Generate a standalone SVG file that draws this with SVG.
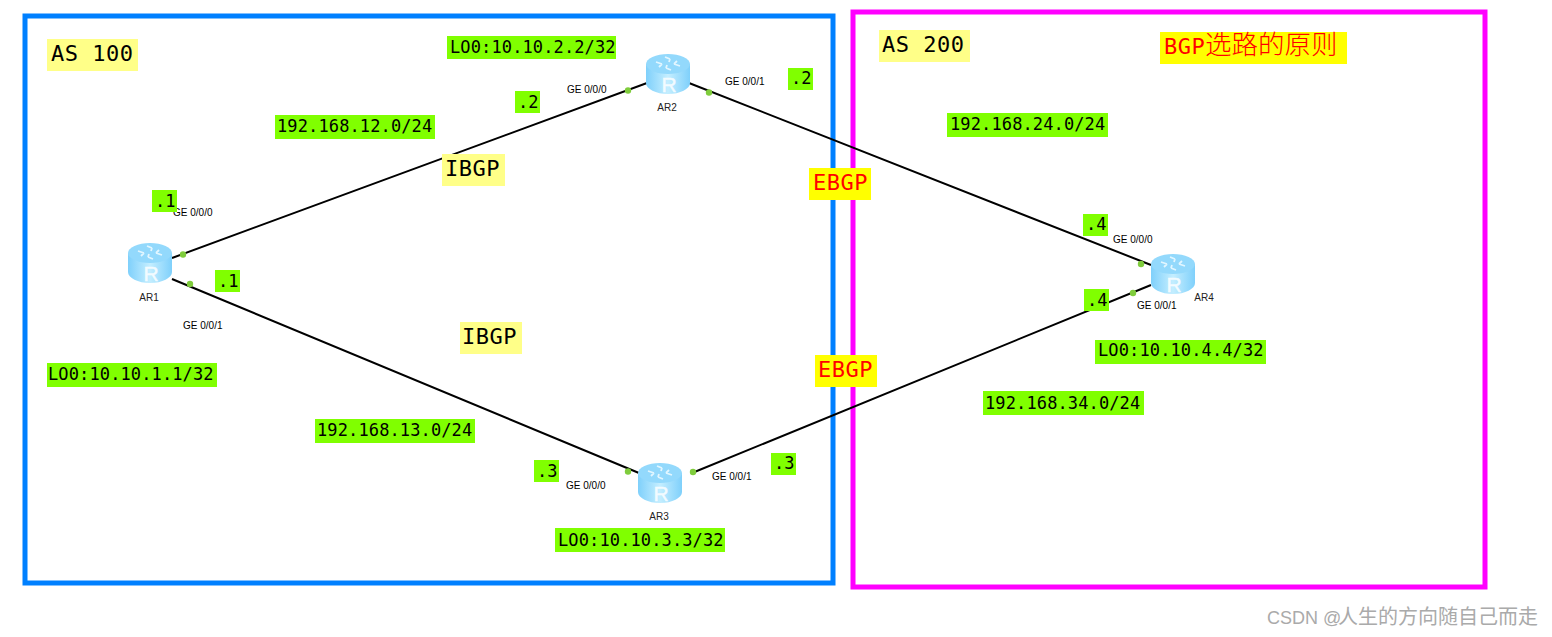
<svg xmlns="http://www.w3.org/2000/svg" width="1552" height="637" viewBox="0 0 1552 637">
<style>
.bg{fill:#80ff00}
.yl{fill:#ffff88}
.ye{fill:#ffff00}
.m{font-family:"DejaVu Sans Mono","Liberation Mono",monospace;fill:#000}
.s17{font-size:17px;letter-spacing:.12px}
.s22{font-size:22px;letter-spacing:.5px}
.r{fill:#ff0000}
.t{font-family:"Liberation Sans",Arial,sans-serif;font-size:10px;fill:#000}
.n{font-family:"Liberation Sans",Arial,sans-serif;font-size:10px;fill:#222}
.c{stroke:#000;stroke-width:2;fill:none}
.d{fill:#7fcc3c}
</style>
<defs>
<linearGradient id="side" x1="0" x2="1" y1="0" y2="0"><stop offset="0" stop-color="#7fd0fb"/><stop offset=".5" stop-color="#c4eeff"/><stop offset="1" stop-color="#7fd0fb"/></linearGradient>
<g id="router">
<path d="M-22-10V9C-22 15-12 20 0 20S22 15 22 9V-10Z" fill="url(#side)"/>
<ellipse cx="0" cy="-10" rx="22" ry="10" fill="#93d9fc"/>
<path d="M-12-12l6 2M-6-10l-3 3M12-8l-6-2M6-10l3-3M-3-17l5 2M2-15l-1 3M3-4l-5-2M-2-6l1-3" stroke="#e2f6ff" stroke-width="1.800" fill="none"/>
<text x="1" y="18" text-anchor="middle" font-family="Liberation Sans,sans-serif" font-size="21" fill="#f2fbff" stroke="#f2fbff" stroke-width=".4">R</text>
</g>
</defs>
<rect width="1552" height="637" fill="#fff"/>
<g id="as100-box"><rect x="25" y="16" width="808" height="567" fill="none" stroke="#0080ff" stroke-width="5"/></g>
<g id="as200-box"><rect x="853" y="12" width="632" height="575" fill="none" stroke="#ff00ff" stroke-width="5"/></g>
<g id="connectors">
<path class="c" d="M172 258L647 83M172 279L639 473M689 83L1151 265M692 473L1151 285"/>
<circle class="d" cx="183" cy="254.500" r="3.200"/><circle class="d" cx="190" cy="284" r="3.200"/>
<circle class="d" cx="628" cy="90.500" r="3.200"/><circle class="d" cx="709" cy="92.500" r="3.200"/>
<circle class="d" cx="628" cy="471.500" r="3.200"/><circle class="d" cx="693" cy="472" r="3.200"/>
<circle class="d" cx="1141" cy="264" r="3.200"/><circle class="d" cx="1133" cy="293" r="3.200"/>
</g>
<g id="AR1"><use href="#router" x="150" y="263"/><text class="n" x="149" y="301" text-anchor="middle">AR1</text></g>
<g id="AR2"><use href="#router" x="668" y="74"/><text class="n" x="667" y="111" text-anchor="middle">AR2</text></g>
<g id="AR3"><use href="#router" x="660" y="483"/><text class="n" x="659" y="520" text-anchor="middle">AR3</text></g>
<g id="AR4"><use href="#router" x="1173" y="274"/><text class="n" x="1204" y="301" text-anchor="middle">AR4</text></g>
<g id="ports">
<text class="t" x="173" y="216">GE 0/0/0</text><text class="t" x="183" y="329">GE 0/0/1</text>
<text class="t" x="567" y="93">GE 0/0/0</text><text class="t" x="725" y="85">GE 0/0/1</text>
<text class="t" x="566" y="489">GE 0/0/0</text><text class="t" x="712" y="480">GE 0/0/1</text>
<text class="t" x="1113" y="243">GE 0/0/0</text><text class="t" x="1137" y="309">GE 0/0/1</text>
</g>
<g id="labels">
<rect class="yl" x="47" y="39" width="91" height="32"/><text class="m s22" x="51" y="61">AS 100</text>
<rect class="yl" x="879" y="30" width="91" height="32"/><text class="m s22" x="882" y="52">AS 200</text>
<rect class="bg" x="447" y="36" width="169" height="23"/><text class="m s17" x="450" y="53">LO0:10.10.2.2/32</text>
<rect class="bg" x="275" y="115" width="160" height="24"/><text class="m s17" x="277" y="132">192.168.12.0/24</text>
<rect class="bg" x="947" y="113" width="161" height="24"/><text class="m s17" x="950" y="130">192.168.24.0/24</text>
<rect class="bg" x="315" y="419" width="160" height="24"/><text class="m s17" x="317" y="436">192.168.13.0/24</text>
<rect class="bg" x="983" y="391" width="161" height="24"/><text class="m s17" x="985" y="409">192.168.34.0/24</text>
<rect class="bg" x="47" y="363" width="170" height="24"/><text class="m s17" x="48" y="380">LO0:10.10.1.1/32</text>
<rect class="bg" x="555" y="528" width="170" height="24"/><text class="m s17" x="558" y="546">LO0:10.10.3.3/32</text>
<rect class="bg" x="1095" y="340" width="171" height="24"/><text class="m s17" x="1098" y="356">LO0:10.10.4.4/32</text>
<rect class="bg" x="152" y="190" width="25" height="22"/><text class="m s17" x="155" y="207">.1</text>
<rect class="bg" x="215" y="270" width="25" height="22"/><text class="m s17" x="218" y="287">.1</text>
<rect class="bg" x="515" y="91" width="25" height="22"/><text class="m s17" x="518" y="108">.2</text>
<rect class="bg" x="788" y="68" width="25" height="22"/><text class="m s17" x="791" y="84">.2</text>
<rect class="bg" x="534" y="460" width="25" height="22"/><text class="m s17" x="537" y="477">.3</text>
<rect class="bg" x="771" y="453" width="25" height="22"/><text class="m s17" x="774" y="469">.3</text>
<rect class="bg" x="1083" y="214" width="25" height="22"/><text class="m s17" x="1086" y="230">.4</text>
<rect class="bg" x="1084" y="289" width="25" height="22"/><text class="m s17" x="1087" y="306">.4</text>
<rect class="yl" x="442" y="154" width="63" height="32"/><text class="m s22" x="445" y="176">IBGP</text>
<rect class="yl" x="460" y="322" width="62" height="32"/><text class="m s22" x="462" y="344">IBGP</text>
<rect class="ye" x="809" y="168" width="62" height="32"/><text class="m s22 r" x="813" y="190">EBGP</text>
<rect class="ye" x="815" y="355" width="62" height="32"/><text class="m s22 r" x="818" y="377">EBGP</text>
<rect class="ye" x="1160" y="32" width="187" height="32"/>
<text x="1164" y="54" font-size="22" letter-spacing=".5" fill="#ff0000" font-family="DejaVu Sans Mono,Noto Sans CJK SC,monospace">BGP<tspan x="1205" font-size="26.500" letter-spacing="0" font-weight="300" font-family="Noto Sans CJK SC,sans-serif">选路的原则</tspan></text>
<text x="1267" y="624" font-size="18" fill="#aaaaaa" font-family="Liberation Sans,Noto Sans CJK SC,sans-serif">CSDN @<tspan x="1338" font-size="20" font-family="Noto Sans CJK SC,sans-serif">人生的方向随自己而走</tspan></text>
</g>
</svg>
